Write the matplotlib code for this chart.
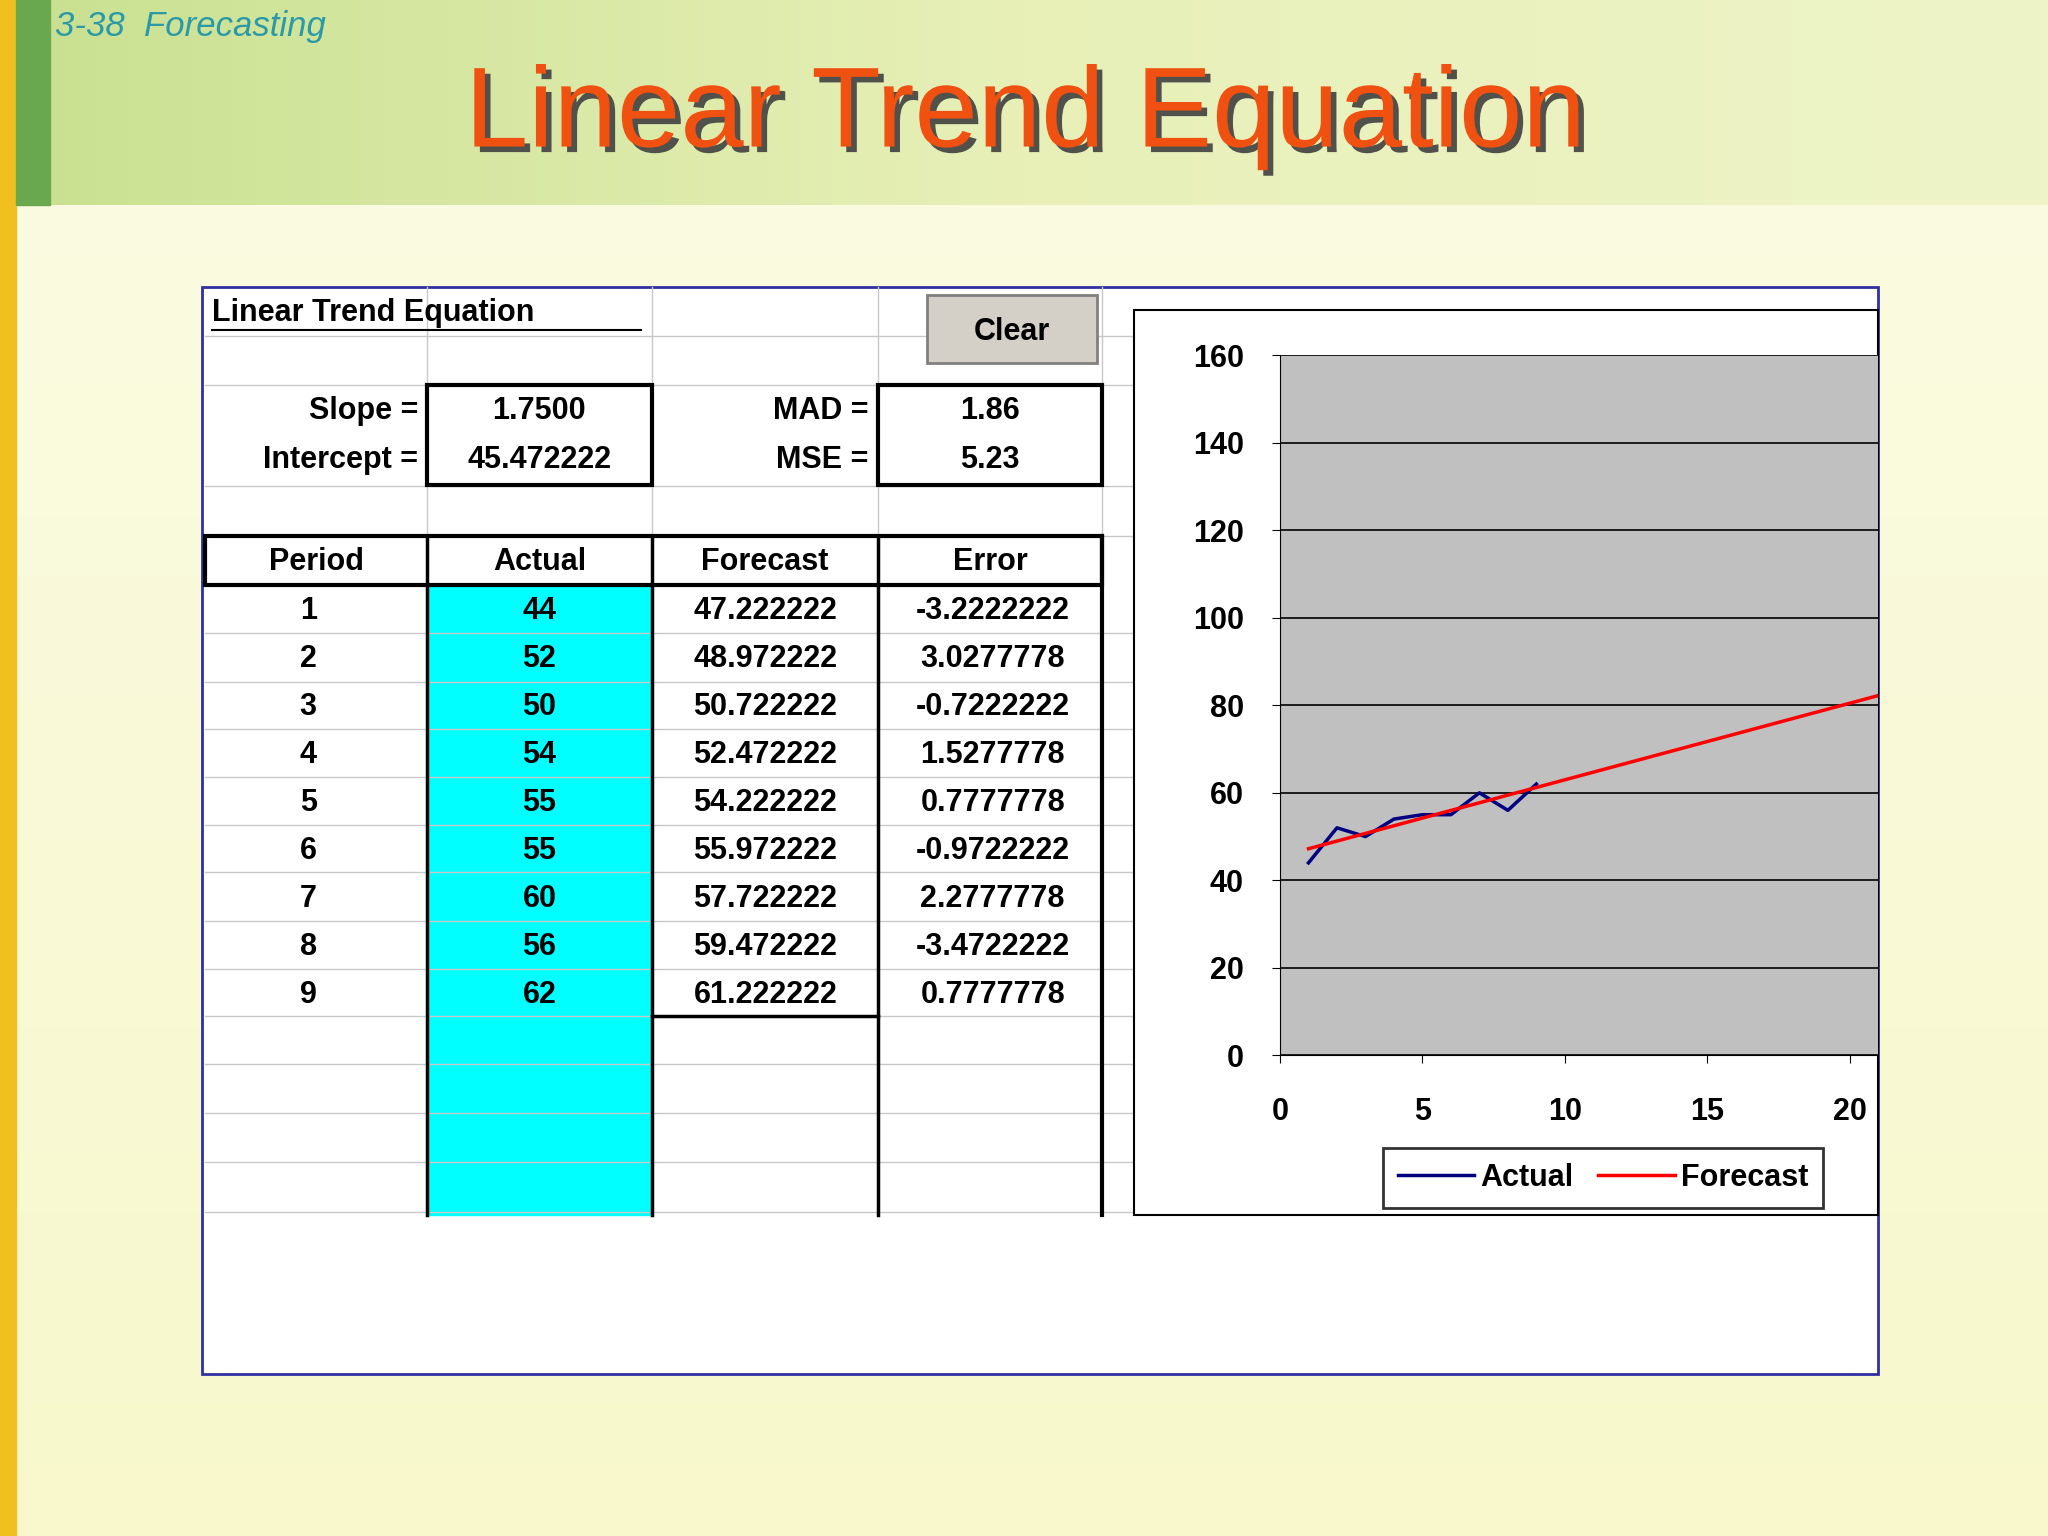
import numpy as np
import matplotlib.pyplot as plt
import matplotlib.patheffects as pe
from matplotlib.patches import Rectangle
from matplotlib.colors import LinearSegmentedColormap

plt.rcParams['font.family'] = ['Liberation Sans', 'DejaVu Sans']

periods = [1, 2, 3, 4, 5, 6, 7, 8, 9]
actual = [44, 52, 50, 54, 55, 55, 60, 56, 62]
forecast = ["47.222222", "48.972222", "50.722222", "52.472222", "54.222222",
            "55.972222", "57.722222", "59.472222", "61.222222"]
error = ["-3.2222222", "3.0277778", "-0.7222222", "1.5277778", "0.7777778",
         "-0.9722222", "2.2777778", "-3.4722222", "0.7777778"]
slope = 1.75
intercept = 45.472222
mad, mse = "1.86", "5.23"
trend_x = list(range(1, 22))

W, H = 1568, 1176
fig = plt.figure(figsize=(20.48, 15.36), dpi=100)
bg = fig.add_axes([0, 0, 1, 1])
bg.set_xlim(0, W); bg.set_ylim(H, 0); bg.axis('off')

# background
grad = np.linspace(0, 1, 256).reshape(-1, 1)
bg.imshow(grad, extent=[0, W, H, 0], cmap=LinearSegmentedColormap.from_list('b', ['#fbfbe4', '#f8f8cc']),
          aspect='auto', zorder=0)
bg.imshow(np.linspace(0, 1, 256).reshape(1, -1), extent=[0, W, 157, 0],
          cmap=LinearSegmentedColormap.from_list('g', ['#c8e090', '#e8f0b8', '#eef4c8']),
          aspect='auto', zorder=1)
bg.add_patch(Rectangle((0, 0), 12, H, color='#f0c020', zorder=2))
bg.add_patch(Rectangle((12, 0), 26, 157, color='#6aa84f', zorder=2))
bg.text(42, 20, "3-38  Forecasting", color='#2a9aa8', fontsize=25, style='italic', va='center', zorder=3)
bg.text(785, 90, "Linear Trend Equation", color='#f05010', fontsize=82, ha='center', va='center', zorder=3,
        path_effects=[pe.withSimplePatchShadow(offset=(4, -4), shadow_rgbFace='#404040', alpha=0.9)])

# sheet
bg.add_patch(Rectangle((155, 220), 1283, 832, facecolor='white', edgecolor='#3030a0', lw=2, zorder=2))
cols = [157, 327, 499, 672, 844]
bg.add_patch(Rectangle((327, 448), 172, 482, color='#00ffff', zorder=3))
for y in [257, 295, 372, 410, 485, 522, 558, 595, 632, 668, 705, 742, 778, 815, 852, 890, 928]:
    bg.plot([157, 868], [y, y], color='#c8c8c8', lw=1, zorder=3)
for x in cols[1:]:
    bg.plot([x, x], [220, 930], color='#c8c8c8', lw=1, zorder=3)
fs = 22
kw = dict(fontsize=fs, fontweight='bold', va='center', zorder=5)
bg.text(162, 240, "Linear Trend Equation", **kw)
bg.plot([162, 491], [253, 253], color='black', lw=1.5, zorder=5)
bg.add_patch(Rectangle((710, 226), 130, 52, facecolor='#d4d0c8', edgecolor='#808080', lw=2, zorder=4))
bg.text(775, 254, "Clear", ha='center', **kw)
bg.add_patch(Rectangle((327, 295), 172, 76, fill=False, lw=3, zorder=5))
bg.add_patch(Rectangle((672, 295), 172, 76, fill=False, lw=3, zorder=5))
bg.text(320, 315, "Slope =", ha='right', **kw)
bg.text(320, 352, "Intercept =", ha='right', **kw)
bg.text(413, 315, f"{slope:.4f}", ha='center', **kw)
bg.text(413, 352, f"{intercept:.6f}", ha='center', **kw)
bg.text(665, 315, "MAD =", ha='right', **kw)
bg.text(665, 352, "MSE =", ha='right', **kw)
bg.text(758, 315, mad, ha='center', **kw)
bg.text(758, 352, mse, ha='center', **kw)
# header
bg.add_patch(Rectangle((157, 410), 687, 38, fill=False, lw=3, zorder=5))
for x in cols[1:4]:
    bg.plot([x, x], [410, 930], color='black', lw=2.5, zorder=5)
bg.plot([844, 844], [410, 930], color='black', lw=3, zorder=5)
bg.plot([499, 672], [778, 778], color='black', lw=2.5, zorder=5)
for i, h in enumerate(["Period", "Actual", "Forecast", "Error"]):
    bg.text((cols[i] + cols[i + 1]) / 2, 430, h, ha='center', **kw)
for i in range(len(periods)):
    y = 468 + i * 36.7
    bg.text(236, y, str(periods[i]), ha='center', **kw)
    bg.text(413, y, str(actual[i]), ha='center', **kw)
    bg.text(586, y, forecast[i], ha='center', **kw)
    bg.text(760, y, error[i], ha='center', **kw)

# chart
bg.add_patch(Rectangle((868, 237), 570, 693, facecolor='white', edgecolor='black', lw=1.5, zorder=4))
ax = fig.add_axes([980 / W, 1 - 808 / H, 458 / W, 536 / H], zorder=6)
ax.set_facecolor('#c0c0c0')
ax.plot(periods, actual, color='#000080', lw=2.5, label='Actual')
ax.plot(trend_x, [intercept + slope * x for x in trend_x], color='red', lw=2.5, label='Forecast')
ax.set_xlim(0, 21); ax.set_ylim(0, 160)
ax.set_yticks(range(0, 161, 20)); ax.set_xticks(range(0, 21, 5))
ax.yaxis.grid(True, color='black', lw=1.2)
for s in ['top', 'right']:
    ax.spines[s].set_visible(False)
ax.tick_params(labelsize=fs, length=6)
ax.tick_params(axis='y', pad=20)
ax.tick_params(axis='x', pad=24)
for lab in ax.get_xticklabels() + ax.get_yticklabels():
    lab.set_fontweight('bold')
leg = ax.legend(loc='upper center', bbox_to_anchor=(0.54, -0.11), ncol=2, frameon=True, fancybox=False,
                edgecolor='black', prop={'size': fs, 'weight': 'bold'}, handlelength=2.5, columnspacing=0.8,
                handletextpad=0.2, borderpad=0.5)
leg.get_frame().set_linewidth(2)

fig.savefig('out.png', dpi=100)
